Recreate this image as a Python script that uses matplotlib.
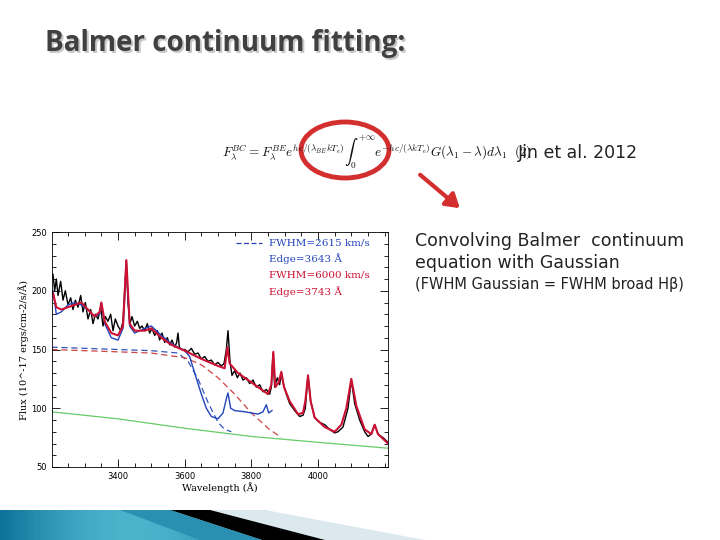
import matplotlib
matplotlib.use("Agg")
import matplotlib.pyplot as plt
import numpy as np
from matplotlib.patches import Ellipse, Polygon, FancyArrowPatch

# ---- data ----
obs_wl = [3205,3210,3215,3220,3228,3235,3242,3250,3258,3265,3272,3280,3288,3295,3302,3310,3318,3325,3332,3340,3348,3355,3362,3370,3378,3385,3392,3400,3408,3415,3420,3425,3430,3436,3442,3450,3458,3465,3472,3480,3488,3495,3502,3510,3518,3525,3532,3540,3548,3555,3562,3570,3576,3580,3584,3590,3600,3610,3620,3630,3640,3650,3660,3670,3680,3690,3700,3710,3718,3725,3730,3736,3742,3750,3758,3766,3775,3785,3795,3805,3815,3825,3835,3845,3855,3860,3865,3870,3878,3885,3890,3895,3905,3915,3930,3945,3955,3962,3970,3978,3990,4005,4020,4035,4050,4060,4075,4090,4100,4110,4125,4140,4150,4160,4170,4180,4195,4210]
obs_fl = [214,200,210,196,208,192,200,188,194,184,192,186,196,182,190,176,184,172,180,176,186,170,178,174,180,166,176,170,166,174,200,226,190,172,178,170,174,168,170,166,172,164,168,162,166,158,164,156,160,154,158,152,156,164,152,150,150,148,151,146,147,142,144,140,141,137,139,136,138,150,166,140,128,132,126,130,124,126,121,124,118,120,114,116,112,118,147,118,126,120,130,122,112,104,98,93,94,100,128,106,92,88,86,82,79,80,84,100,124,104,90,80,76,78,86,78,75,71]

red_wl = [3205,3215,3230,3250,3270,3290,3310,3330,3345,3350,3360,3380,3400,3415,3425,3435,3450,3480,3500,3530,3560,3600,3650,3700,3720,3728,3735,3760,3800,3830,3850,3860,3866,3872,3882,3890,3898,3915,3940,3955,3962,3970,3978,3990,4020,4050,4070,4085,4100,4115,4140,4160,4170,4180,4210]
red_fl = [198,186,184,186,188,190,184,178,182,190,174,164,162,170,226,172,166,166,168,160,154,149,142,136,134,152,138,130,122,116,112,120,148,118,122,131,118,106,95,96,106,128,106,92,84,80,86,100,125,102,82,78,86,78,70]

blue_wl = [3205,3215,3230,3250,3270,3290,3310,3330,3345,3350,3360,3380,3400,3415,3425,3435,3450,3480,3500,3530,3560,3600,3615,3630,3650,3665,3680,3700,3715,3725,3730,3738,3750,3780,3800,3820,3835,3845,3852,3862]
blue_fl = [200,180,182,188,190,188,184,178,180,190,172,160,158,168,220,170,164,168,170,162,155,149,144,130,112,100,93,91,96,108,113,100,98,97,96,95,97,103,96,98]

bdash_wl = [3200,3300,3400,3500,3580,3610,3640,3670,3700,3720,3740]
bdash_fl = [152,151,150,149,147,140,125,105,88,82,80]

rdash_wl = [3200,3300,3400,3500,3600,3650,3700,3750,3800,3850,3890]
rdash_fl = [150,149,148,147,143,137,126,112,96,83,75]

green_wl = [3200,3400,3600,3800,4000,4210]
green_fl = [97,91,83,76,71,66]

xticks = [3400, 3600, 3800, 4000]
yticks = [50, 100, 150, 200, 250]

plt.rcParams["mathtext.fontset"] = "cm"
fig = plt.figure(figsize=(7.2, 5.4), dpi=100)
fig.patch.set_facecolor("white")

fig.text(47/720, 1-46/540, "Balmer continuum fitting:", fontsize=20, fontweight="bold",
         color="#c8c8c8", va="center", family="Open Sans")
fig.text(45/720, 1-44/540, "Balmer continuum fitting:", fontsize=20, fontweight="bold",
         color="#404040", va="center", family="Open Sans")

eq = (r"$F_\lambda^{BC}=F_\lambda^{BE}e^{hc/(\lambda_{BE}kT_e)}\int_0^{+\infty}"
      r"e^{-hc/(\lambda kT_e)}G(\lambda_1-\lambda)d\lambda_1\ \ (2)$")
fig.text(222/720, 1-152/540, eq, fontsize=9.5, va="center", color="#111111")
fig.text(518/720, 1-153/540, "Jin et al. 2012", fontsize=12.5, va="center", color="#222222")

ell = Ellipse((345/720, 1-150/540), 88/720, 56/540, transform=fig.transFigure,
              fill=False, ec="#d32f2f", lw=3.5)
fig.add_artist(ell)
arr = FancyArrowPatch((418/720, 1-173/540), (462/720, 1-210/540), transform=fig.transFigure,
                      arrowstyle="-|>,head_length=8,head_width=5", color="#d32f2f", lw=3)
fig.add_artist(arr)

fig.text(415/720, 1-241/540, "Convolving Balmer  continuum", fontsize=12.5, va="center", color="#222222")
fig.text(415/720, 1-263/540, "equation with Gaussian", fontsize=12.5, va="center", color="#222222")
fig.text(415/720, 1-285/540, "(FWHM Gaussian = FWHM broad H\u03b2)", fontsize=10.5, va="center", color="#222222")

# bottom band
N = 60
for i in range(N):
    x0 = i * 265 / N
    t = i / N
    c = (0.05 + 0.25*np.sin(np.pi*t), 0.45 + 0.25*np.sin(np.pi*t), 0.6 + 0.2*np.sin(np.pi*t))
    fig.add_artist(Polygon([(x0/720, 0), ((x0+265/N+1)/720, 0), ((x0+265/N+1)/720, 30/540), (x0/720, 30/540)],
                           closed=True, transform=fig.transFigure, fc=c, ec="none"))
fig.add_artist(Polygon([(170/720, 30/540), (265/720, 30/540), (425/720, 0), (262/720, 0)],
                       transform=fig.transFigure, fc="#dbe9ef", ec="none"))
fig.add_artist(Polygon([(170/720, 30/540), (210/720, 30/540), (325/720, 0), (262/720, 0)],
                       transform=fig.transFigure, fc="black", ec="none"))
fig.add_artist(Polygon([(170/720, 30/540), (262/720, 0), (200/720, 0), (120/720, 30/540)],
                       transform=fig.transFigure, fc="#2a8fb0", ec="none"))

ax = fig.add_axes([52/720, 1-467/540, 336/720, 235/540])
ax.plot(green_wl, green_fl, color="#66cc66", lw=0.9)
ax.plot(bdash_wl, bdash_fl, color="#3355bb", lw=0.9, ls=(0, (5, 3)))
ax.plot(rdash_wl, rdash_fl, color="#cc4444", lw=0.9, ls=(0, (5, 3)))
ax.plot(obs_wl, obs_fl, color="black", lw=1.0)
ax.plot(blue_wl, blue_fl, color="#2244bb", lw=1.0)
ax.plot(red_wl, red_fl, color="#cc1133", lw=1.5)
ax.set_xlim(3202, 4210)
ax.set_ylim(50, 250)
ax.set_xticks(xticks)
ax.set_yticks(yticks)
ax.minorticks_on()
ax.tick_params(which="both", direction="in", top=True, right=True, labelsize=6, width=0.6)
ax.tick_params(which="major", length=6)
ax.tick_params(which="minor", length=3)
for s in ax.spines.values():
    s.set_linewidth(0.6)
ax.set_xlabel("Wavelength (\u00c5)", fontsize=7, family="DejaVu Serif", labelpad=1)
ax.set_ylabel("Flux (10^-17 ergs/cm-2/s/\u00c5)", fontsize=7, family="DejaVu Serif", labelpad=2)

ax.plot([3755, 3832], [241, 241], color="#2244bb", lw=0.9, ls=(0, (4, 2)))
ax.text(3852, 241, "FWHM=2615 km/s", color="#2244bb", fontsize=7.5, va="center", family="DejaVu Serif")
ax.text(3852, 227, "Edge=3643 \u00c5", color="#2244bb", fontsize=7.5, va="center", family="DejaVu Serif")
ax.text(3852, 213, "FWHM=6000 km/s", color="#cc1133", fontsize=7.5, va="center", family="DejaVu Serif")
ax.text(3852, 199, "Edge=3743 \u00c5", color="#cc1133", fontsize=7.5, va="center", family="DejaVu Serif")

fig.savefig("out.png", dpi=100)
